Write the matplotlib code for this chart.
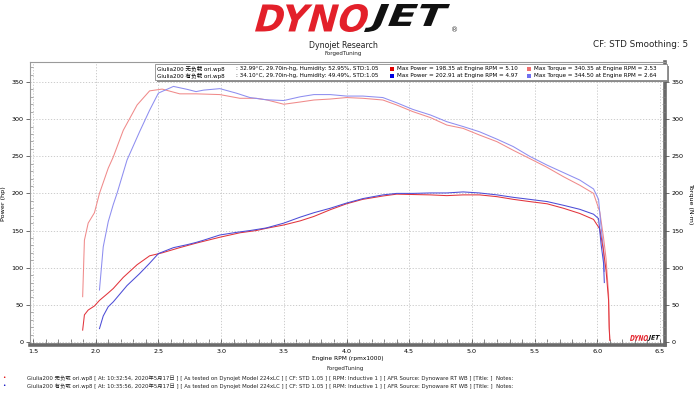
import matplotlib
matplotlib.use("Agg")
import matplotlib.pyplot as plt
from matplotlib.ticker import MultipleLocator
from matplotlib.textpath import TextPath
from matplotlib.patches import PathPatch, Rectangle
from matplotlib.font_manager import FontProperties
from matplotlib.transforms import Affine2D

plt.rcParams['font.family'] = ['DejaVu Sans', 'Noto Sans CJK SC']

# ---------------- data ----------------
run_names = ["Giulia200 无负载 ori.wp8", "Giulia200 有负载 ori.wp8"]

rpm_a = [1.896, 1.91, 1.94, 1.99, 2.03, 2.10, 2.14, 2.22, 2.33, 2.43, 2.53, 2.67, 2.80,
         2.99, 3.15, 3.28, 3.36, 3.50, 3.63, 3.74, 3.87, 4.00, 4.13, 4.29, 4.40, 4.53,
         4.67, 4.80, 4.93, 5.06, 5.20, 5.33, 5.46, 5.60, 5.73, 5.86, 5.97, 6.02, 6.05,
         6.07, 6.09, 6.095, 6.10]
torque_a = [61, 137, 160, 174, 200, 234, 249, 285, 319, 338, 340.4, 334, 334,
            333, 328, 328, 326, 320, 323, 325.7, 327, 329, 328, 325.7, 319, 310,
            302, 292, 287.5, 278.6, 269.6, 258, 247, 235, 222.5, 211, 200, 175, 140,
            112, 64, 21, 3]
power_a = [16, 36.5, 43, 48.5, 56, 66, 72, 87, 104, 116, 120, 127, 133,
           141, 147, 150, 153, 157.5, 163, 169, 178, 186, 192, 196.5, 199, 198.5,
           198, 197, 198, 198, 195.6, 192, 189, 186, 180, 173, 165, 152, 122,
           96, 56, 18, 2]

rpm_b = [2.03, 2.06, 2.10, 2.14, 2.17, 2.25, 2.35, 2.43, 2.50, 2.62, 2.73, 2.80, 2.86,
         2.99, 3.12, 3.23, 3.36, 3.50, 3.63, 3.74, 3.87, 4.00, 4.13, 4.29, 4.40, 4.53,
         4.67, 4.80, 4.93, 5.06, 5.20, 5.33, 5.46, 5.60, 5.73, 5.86, 5.97, 6.01, 6.03,
         6.05, 6.056]
torque_b = [70, 128, 162, 185, 200, 245, 283, 312, 335, 344, 340, 337, 339,
            341, 335, 329, 326, 325, 330, 333, 333, 331, 331, 329, 322, 313,
            305.5, 296.5, 290, 283, 273, 263, 250, 238, 228, 218, 206, 192, 155,
            124, 95]
power_b = [18, 35, 47.5, 54, 60, 76, 92, 106, 119, 127, 131, 134, 137,
           144, 147.5, 150, 153.5, 160, 168, 174, 180, 187, 193, 198, 200, 200,
           200.6, 200.6, 202, 200.6, 198, 194.7, 192, 189, 184, 178.6, 172, 166, 132,
           106, 80]

legend_env = [": 32.99°C, 29.70in-hg, Humidity: 52.95%, STD:1.05",
              ": 34.10°C, 29.70in-hg, Humidity: 49.49%, STD:1.05"]
legend_power = ["Max Power = 198.35 at Engine RPM = 5.10",
                "Max Power = 202.91 at Engine RPM = 4.97"]
legend_torque = ["Max Torque = 340.35 at Engine RPM = 2.53",
                 "Max Torque = 344.50 at Engine RPM = 2.64"]
footer_lines = [
    "Giulia200 无负载 ori.wp8 [ At: 10:32:54, 2020年5月17日 ] [ As tested on Dynojet Model 224xLC ] [ CF: STD 1.05 ] [ RPM: Inductive 1 ] [ AFR Source: Dynoware RT WB ] [Title: ]  Notes:",
    "Giulia200 有负载 ori.wp8 [ At: 10:35:56, 2020年5月17日 ] [ As tested on Dynojet Model 224xLC ] [ CF: STD 1.05 ] [ RPM: Inductive 1 ] [ AFR Source: Dynoware RT WB ] [Title: ]  Notes:",
]
x_ticks = [1.5, 2.0, 2.5, 3.0, 3.5, 4.0, 4.5, 5.0, 5.5, 6.0, 6.5]
y_ticks = [0, 50, 100, 150, 200, 250, 300, 350]

# ---------------- styles ----------------
W, H = 700, 393
c_power_a, c_torque_a = '#e2343c', '#f08a8a'
c_power_b, c_torque_b = '#4c4cd6', '#8e8ef0'
sq_power = ['#e00000', '#0000e0']
sq_torque = ['#f07070', '#7070f0']
fs_leg = 4.05

fig = plt.figure(figsize=(W / 100, H / 100), dpi=100)

def fx(px):
    return px / W

def fy(py):
    return 1 - py / H

ax_l, ax_r, ax_t, ax_b = 30, 665, 62, 344.5
ax = fig.add_axes([fx(ax_l), fy(ax_b), fx(ax_r - ax_l), (ax_b - ax_t) / H])
px_per_x = 125.4
px_per_y = 0.743
xlo = 1.5 - (33 - ax_l) / px_per_x
xhi = 1.5 + (ax_r - 33) / px_per_x
ylo = -(ax_b - 342) / px_per_y
yhi = (342 - ax_t) / px_per_y

ax.plot(rpm_a, torque_a, color=c_torque_a, lw=0.75, zorder=3)
ax.plot(rpm_b, torque_b, color=c_torque_b, lw=0.75, zorder=3)
ax.plot(rpm_a, power_a, color=c_power_a, lw=0.75, zorder=4)
ax.plot(rpm_b, power_b, color=c_power_b, lw=0.75, zorder=4)

ax.set_xlim(xlo, xhi)
ax.set_ylim(ylo, yhi)
ax.set_xticks(x_ticks)
ax.set_xticklabels([f"{v:.1f}" for v in x_ticks])
ax.set_yticks(y_ticks)
ax.xaxis.set_minor_locator(MultipleLocator(0.1))
ax.yaxis.set_minor_locator(MultipleLocator(10))
ax.grid(True, which='major', color='#c4c4c4', linestyle=(0, (1.5, 2)), lw=0.6)
ax.tick_params(axis='x', which='major', direction='in', length=4, width=0.6,
               labelsize=4.6, pad=3, color='#555555')
ax.tick_params(axis='x', which='minor', direction='in', length=4, width=0.5, color='#555555')
ax.tick_params(axis='y', which='major', direction='out', length=3, width=0.6,
               labelsize=4.6, pad=1.5, color='#555555')
ax.tick_params(axis='y', which='minor', direction='in', length=2, width=0.5, color='#888888')
for s in ['left', 'top']:
    ax.spines[s].set_color('#9a9a9a')
    ax.spines[s].set_linewidth(0.8)
ax.spines['bottom'].set_color('#6a6a6a')
ax.spines['bottom'].set_linewidth(2.6)
ax.spines['right'].set_color('#6a6a6a')
ax.spines['right'].set_linewidth(2.6)

ax2 = ax.twinx()
ax2.set_ylim(ylo, yhi)
ax2.set_yticks(y_ticks)
ax2.yaxis.set_minor_locator(MultipleLocator(10))
ax2.tick_params(axis='y', which='major', direction='out', length=3, width=0.6,
                labelsize=4.6, pad=1.5, color='#555555')
ax2.tick_params(axis='y', which='minor', direction='in', length=2, width=0.5, color='#888888')
for s in ax2.spines.values():
    s.set_visible(False)

ax.set_ylabel("Power (hp)", fontsize=4.6, labelpad=4)
ax2.set_ylabel("Torque (N·m)", fontsize=4.6, rotation=270, labelpad=7)
ax.set_xlabel("Engine RPM (rpmx1000)", fontsize=4.2, labelpad=2)

# ---------------- header ----------------
fp_logo = FontProperties(family='DejaVu Sans', weight='bold', style='normal')

def logo_part(s, x0, x1, ytop, ybot, color, skew=16):
    tp = TextPath((0, 0), s, size=10, prop=fp_logo)
    tp = Affine2D().skew_deg(skew, 0).transform_path(tp)
    ext = tp.get_extents()
    sx = (x1 - x0) / ext.width
    sy = (ybot - ytop) / ext.height
    tr = (Affine2D().translate(-ext.x0, -ext.y0).scale(sx, sy)
          .translate(x0, H - ybot).scale(1 / W, 1 / H) + fig.transFigure)
    fig.add_artist(PathPatch(tp, transform=tr, fc=color, ec='none', zorder=8))

logo_part("DYNO", 255, 368, 4, 32, '#e3202a')
logo_part("JET", 364, 450, 4, 32, '#111111')
fig.text(fx(455), fy(30), "®", fontsize=5, color='#333333', ha='center', va='center')

fig.text(fx(343), fy(45), "Dynojet Research", fontsize=5.7, ha='center', va='center', color='#222222')
fig.text(fx(343), fy(53.5), "ForgedTuning", fontsize=4.1, ha='center', va='center', color='#222222')
fig.text(fx(688), fy(44.5), "CF: STD Smoothing: 5", fontsize=6.3, ha='right', va='center', color='#222222')

# ---------------- legend box ----------------
fig.add_artist(Rectangle((fx(157), fy(82)), fx(512), (82 - 66) / H,
                         transform=fig.transFigure, fc='#8a8a8a', ec='none', zorder=5))
fig.add_artist(Rectangle((fx(155), fy(80)), fx(512), (80 - 64) / H,
                         transform=fig.transFigure, fc='white', ec='#8a8a8a', lw=0.6, zorder=6))
for i, yy in enumerate([68.5, 76]):
    fig.text(fx(157), fy(yy), run_names[i], fontsize=fs_leg, va='center', zorder=7)
    fig.text(fx(236), fy(yy), legend_env[i], fontsize=fs_leg, va='center', zorder=7)
    fig.add_artist(Rectangle((fx(390), fy(yy + 2)), fx(4), 4 / H, transform=fig.transFigure,
                             fc=sq_power[i], ec='none', zorder=7))
    fig.text(fx(397), fy(yy), legend_power[i], fontsize=fs_leg, va='center', zorder=7)
    fig.add_artist(Rectangle((fx(527), fy(yy + 2)), fx(4), 4 / H, transform=fig.transFigure,
                             fc=sq_torque[i], ec='none', zorder=7))
    fig.text(fx(534), fy(yy), legend_torque[i], fontsize=fs_leg, va='center', zorder=7)

# mini logo (inside plot, lower right)
logo_part("DYNO", 630, 648, 335, 341, '#e3202a')
logo_part("JET", 647.5, 660, 335, 341, '#111111')

# ---------------- footer ----------------
fig.text(fx(345), fy(368.5), "ForgedTuning", fontsize=4.1, ha='center', va='center', color='#222222')
for i, (yy, col) in enumerate([(378, '#e00000'), (386, '#0000c0')]):
    fig.text(fx(4), fy(yy), "•", color=col, fontsize=4, ha='center', va='center')
    fig.text(fx(27), fy(yy), footer_lines[i], fontsize=3.85, va='center', color='#222222')

fig.savefig("out.png", dpi=100)
